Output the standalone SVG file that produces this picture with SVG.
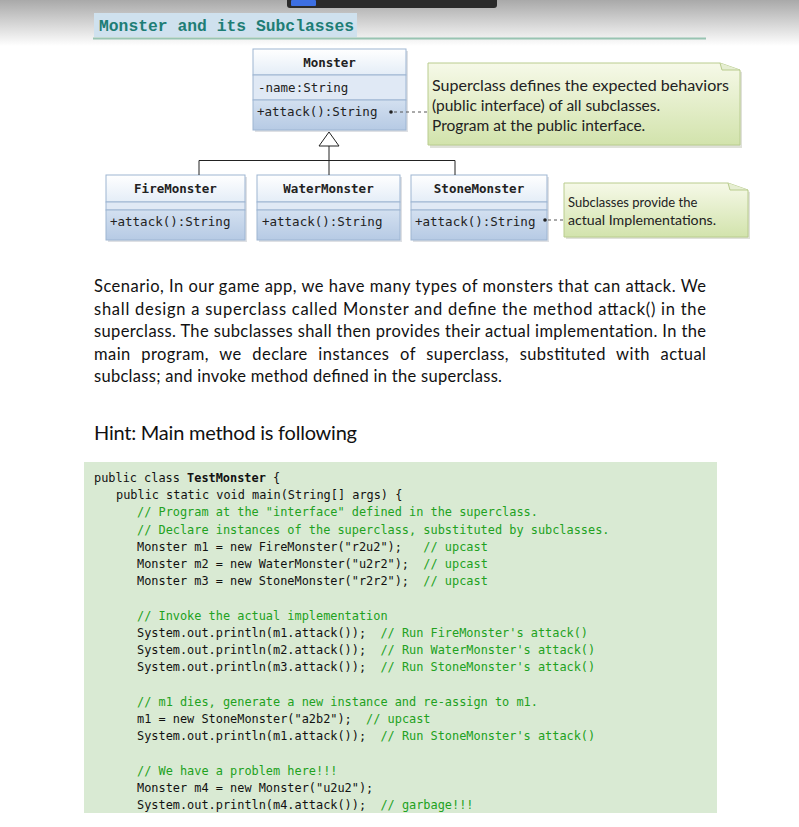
<svg xmlns="http://www.w3.org/2000/svg" width="799" height="827" viewBox="0 0 799 827">
<defs>
<linearGradient id="topg" x1="0" y1="0" x2="0" y2="1"><stop offset="0" stop-color="#a9a9a9"/><stop offset="1" stop-color="#ffffff"/></linearGradient>
<linearGradient id="hdr" x1="0" y1="0" x2="0" y2="1"><stop offset="0" stop-color="#ffffff"/><stop offset="1" stop-color="#e4edf7"/></linearGradient>
<linearGradient id="ops" x1="0" y1="0" x2="0" y2="1"><stop offset="0" stop-color="#d3e0f0"/><stop offset="1" stop-color="#b6cae4"/></linearGradient>
<linearGradient id="note" x1="0" y1="0" x2="0" y2="1"><stop offset="0" stop-color="#f6f9e8"/><stop offset="1" stop-color="#d2e3ac"/></linearGradient>
<style>
.box{stroke:#9db5d2;stroke-width:1}
.shadow{fill:#c8ccd2;opacity:0.6}
.cls{font-family:"DejaVu Sans Mono","Liberation Mono",monospace;font-size:12.5px;fill:#222}
.clsb{font-weight:bold;text-anchor:middle}
.note{font-family:Lato,"Open Sans","Liberation Sans",sans-serif;fill:#222}
.para{font-family:Lato,"Open Sans","Liberation Sans",sans-serif;font-size:16.5px;fill:#111}
.code{font-family:"DejaVu Sans Mono","Liberation Mono",monospace;font-size:11.9px;fill:#111;white-space:pre}
.cm{fill:#21a121}
.ln{stroke:#222;stroke-width:1;fill:none}
.dash{stroke:#555;stroke-width:1;stroke-dasharray:3,3;fill:none}
</style>
</defs>
<rect x="0" y="0" width="799" height="827" fill="#ffffff"/>
<rect x="0" y="0" width="799" height="46" fill="url(#topg)"/>
<rect x="287" y="-4" width="210" height="12" rx="3" fill="#2b2b2b"/>
<rect x="291" y="0" width="25" height="6" rx="1" fill="#3c6fe3"/>

<g id="title">
<rect x="94" y="13" width="263" height="24" fill="#cfe1ee"/>
<text x="99" y="31" font-family="'Liberation Mono','DejaVu Sans Mono',monospace" font-size="16.3" font-weight="bold" fill="#1e7d75" textLength="255" lengthAdjust="spacingAndGlyphs">Monster and its Subclasses</text>
<line x1="93" y1="38.5" x2="706" y2="38.5" stroke="#98c4b2" stroke-width="2"/>
</g>

<g id="monster">
<rect class="shadow" x="255" y="51" width="153" height="81"/>
<rect x="253" y="49" width="153" height="26" fill="url(#hdr)" class="box"/>
<rect x="253" y="75" width="153" height="25" fill="#e0e9f5" class="box"/>
<rect x="253" y="100" width="153" height="30" fill="url(#ops)" class="box"/>
<text class="cls clsb" x="329.5" y="67">Monster</text>
<text class="cls" x="258" y="92">-name:String</text>
<text class="cls" x="257" y="116">+attack():String</text>
</g>

<g id="fireMonster">
<rect class="shadow" x="108" y="177" width="139" height="65"/>
<rect x="106" y="175" width="139" height="27" fill="url(#hdr)" class="box"/>
<rect x="106" y="202" width="139" height="8" fill="#e0e9f5" class="box"/>
<rect x="106" y="210" width="139" height="30" fill="url(#ops)" class="box"/>
<text class="cls clsb" x="175.5" y="193">FireMonster</text>
<text class="cls" x="110" y="226">+attack():String</text>
</g>

<g id="waterMonster">
<rect class="shadow" x="259" y="177" width="143" height="65"/>
<rect x="257" y="175" width="143" height="27" fill="url(#hdr)" class="box"/>
<rect x="257" y="202" width="143" height="8" fill="#e0e9f5" class="box"/>
<rect x="257" y="210" width="143" height="30" fill="url(#ops)" class="box"/>
<text class="cls clsb" x="328.5" y="193">WaterMonster</text>
<text class="cls" x="262" y="226">+attack():String</text>
</g>

<g id="stoneMonster">
<rect class="shadow" x="413" y="177" width="136" height="65"/>
<rect x="411" y="175" width="136" height="27" fill="url(#hdr)" class="box"/>
<rect x="411" y="202" width="136" height="8" fill="#e0e9f5" class="box"/>
<rect x="411" y="210" width="136" height="30" fill="url(#ops)" class="box"/>
<text class="cls clsb" x="479" y="193">StoneMonster</text>
<text class="cls" x="415" y="226">+attack():String</text>
</g>

<g id="note1">
<path d="M430,65 H722 L742,72 V148 H430 Z" fill="#c9cdc0" opacity="0.6"/>
<path d="M428,63 H720 L740,70 V145 H428 Z" fill="url(#note)" stroke="#b9cc8e" stroke-width="1"/>
<path d="M720,63 L722,70 H740" fill="#e6eed2" stroke="#b9cc8e" stroke-width="1"/>
<text class="note" font-size="15.5" x="432" y="91" textLength="297" lengthAdjust="spacingAndGlyphs">Superclass defines the expected behaviors</text>
<text class="note" font-size="15.5" x="432" y="111">(public interface) of all subclasses.</text>
<text class="note" font-size="15.5" x="432" y="131">Program at the public interface.</text>
</g>

<g id="note2">
<path d="M566,185 H730 L750,192 V239 H566 Z" fill="#c9cdc0" opacity="0.6"/>
<path d="M564,183 H728 L748,190 V237 H564 Z" fill="url(#note)" stroke="#b9cc8e" stroke-width="1"/>
<path d="M728,183 L730,190 H748" fill="#e6eed2" stroke="#b9cc8e" stroke-width="1"/>
<text class="note" font-size="13" x="568" y="207">Subclasses provide the</text>
<text class="note" font-size="13" x="568" y="225" textLength="148" lengthAdjust="spacingAndGlyphs">actual Implementations.</text>
</g>

<g id="connectors">
<polygon points="329,132 319,146 339,146" fill="#fff" stroke="#222" stroke-width="1"/>
<path class="ln" d="M329,146 V175 M199,175 V160.5 H455 V175"/>
<circle cx="391" cy="112" r="1.8" fill="#222"/>
<path class="dash" d="M394,112 H428"/>
<circle cx="545" cy="220" r="1.8" fill="#222"/>
<path class="dash" d="M548,220 H564"/>
</g>

<g id="paragraph">
<text class="para" x="94" y="292" textLength="612" lengthAdjust="spacing">Scenario, In our game app, we have many types of monsters that can attack. We</text>
<text class="para" x="94" y="315" textLength="612" lengthAdjust="spacing">shall design a superclass called Monster and define the method attack() in the</text>
<text class="para" x="94" y="337" textLength="612" lengthAdjust="spacing">superclass. The subclasses shall then provides their actual implementation. In the</text>
<text class="para" x="94" y="360" textLength="612" lengthAdjust="spacing" word-spacing="6">main program, we declare instances of superclass, substituted with actual</text>
<text class="para" x="94" y="382" textLength="408" lengthAdjust="spacing">subclass; and invoke method defined in the superclass.</text>
</g>

<g id="hint">
<text x="94" y="440" font-family="Lato,'Open Sans','Liberation Sans',sans-serif" font-size="20" fill="#111" textLength="263" lengthAdjust="spacing">Hint: Main method is following</text>
</g>

<g id="code">
<rect x="84" y="462" width="633" height="351" fill="#d9ead3"/>
<text class="code" x="94" y="482" xml:space="preserve">public class <tspan font-weight="bold">TestMonster</tspan> {</text>
<text class="code" x="116" y="499" xml:space="preserve">public static void main(String[] args) {</text>
<text class="code cm" x="137" y="516" xml:space="preserve">// Program at the "interface" defined in the superclass.</text>
<text class="code cm" x="137" y="534" xml:space="preserve">// Declare instances of the superclass, substituted by subclasses.</text>
<text class="code" x="137" y="551" xml:space="preserve">Monster m1 = new FireMonster("r2u2");   <tspan class="cm">// upcast</tspan></text>
<text class="code" x="137" y="568" xml:space="preserve">Monster m2 = new WaterMonster("u2r2");  <tspan class="cm">// upcast</tspan></text>
<text class="code" x="137" y="585" xml:space="preserve">Monster m3 = new StoneMonster("r2r2");  <tspan class="cm">// upcast</tspan></text>
<text class="code cm" x="137" y="620" xml:space="preserve">// Invoke the actual implementation</text>
<text class="code" x="137" y="637" xml:space="preserve">System.out.println(m1.attack());  <tspan class="cm">// Run FireMonster's attack()</tspan></text>
<text class="code" x="137" y="654" xml:space="preserve">System.out.println(m2.attack());  <tspan class="cm">// Run WaterMonster's attack()</tspan></text>
<text class="code" x="137" y="671" xml:space="preserve">System.out.println(m3.attack());  <tspan class="cm">// Run StoneMonster's attack()</tspan></text>
<text class="code cm" x="137" y="706" xml:space="preserve">// m1 dies, generate a new instance and re-assign to m1.</text>
<text class="code" x="137" y="723" xml:space="preserve">m1 = new StoneMonster("a2b2");  <tspan class="cm">// upcast</tspan></text>
<text class="code" x="137" y="740" xml:space="preserve">System.out.println(m1.attack());  <tspan class="cm">// Run StoneMonster's attack()</tspan></text>
<text class="code cm" x="137" y="775" xml:space="preserve">// We have a problem here!!!</text>
<text class="code" x="137" y="792" xml:space="preserve">Monster m4 = new Monster("u2u2");</text>
<text class="code" x="137" y="809" xml:space="preserve">System.out.println(m4.attack());  <tspan class="cm">// garbage!!!</tspan></text>
</g>
</svg>
